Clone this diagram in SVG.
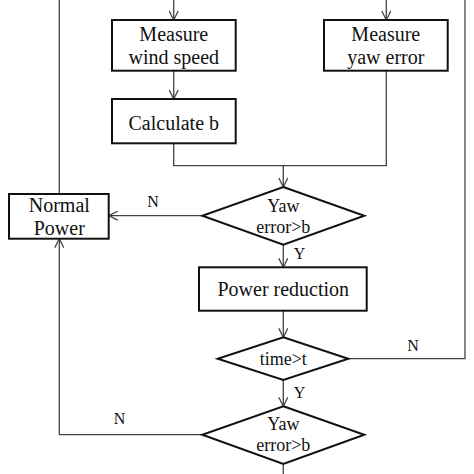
<svg xmlns="http://www.w3.org/2000/svg" width="474" height="474" viewBox="0 0 474 474">
<style>
.box{fill:#fff;stroke:#111;stroke-width:2}
.t{font-family:"Liberation Serif","Times New Roman",serif;font-size:20px;fill:#111;text-anchor:middle}
.d{font-family:"Liberation Serif","Times New Roman",serif;font-size:18px;fill:#111;text-anchor:middle}
.l{font-family:"Liberation Serif","Times New Roman",serif;font-size:16px;fill:#111;text-anchor:middle}
.c{fill:none;stroke:#444;stroke-width:1.3}
</style>
<defs>
<marker id="arr" viewBox="0 0 10 10" refX="10" refY="5" markerWidth="10" markerHeight="10" markerUnits="userSpaceOnUse" orient="auto">
<path d="M1,0.5 L10,5 L1,9.5" fill="none" stroke="#444" stroke-width="1.3"/>
</marker>
</defs>
<rect width="474" height="474" fill="#fff"/>
<g id="connectors">
<path class="c" d="M173.7,0 V20" marker-end="url(#arr)"/>
<path class="c" d="M386.3,0 V20" marker-end="url(#arr)"/>
<path class="c" d="M173.7,70.7 V99" marker-end="url(#arr)"/>
<path class="c" d="M173.7,143.3 V165.7 H386.3 V70.7"/>
<path class="c" d="M283.3,165.7 V187" marker-end="url(#arr)"/>
<path class="c" d="M202.3,215.7 H108.7" marker-end="url(#arr)"/>
<path class="c" d="M283.3,244.7 V267.3" marker-end="url(#arr)"/>
<path class="c" d="M283.3,310.7 V337.3" marker-end="url(#arr)"/>
<path class="c" d="M348.3,358.7 H465 V0"/>
<path class="c" d="M59.3,194 V0"/>
<path class="c" d="M283.3,380 V406.3" marker-end="url(#arr)"/>
<path class="c" d="M202.3,434.7 H59.3 V238.7" marker-end="url(#arr)"/>
<path class="c" d="M283.3,464 V474"/>
<text class="l" x="153" y="207">N</text>
<text class="l" x="299.5" y="259">Y</text>
<text class="l" x="413" y="351">N</text>
<text class="l" x="299.5" y="398">Y</text>
<text class="l" x="119.5" y="424">N</text>
</g>
<g id="wind">
<rect class="box" x="112" y="20" width="123.7" height="50.7"/>
<text class="t" x="173.8" y="40.5">Measure</text>
<text class="t" x="173.8" y="64">wind speed</text>
</g>
<g id="yaw">
<rect class="box" x="324" y="20" width="123.7" height="50.7"/>
<text class="t" x="385.8" y="40.5">Measure</text>
<text class="t" x="385.8" y="64">yaw error</text>
</g>
<g id="calc">
<rect class="box" x="112" y="99" width="123.7" height="44.3"/>
<text class="t" x="173.8" y="130">Calculate b</text>
</g>
<g id="normal">
<rect class="box" x="9" y="194" width="99.7" height="44.7"/>
<text class="t" x="59.3" y="212">Normal</text>
<text class="t" x="59.3" y="235">Power</text>
</g>
<g id="dec1">
<polygon class="box" points="283.3,187 364.3,215.7 283.3,244.7 202.3,215.7"/>
<text class="d" x="283.3" y="212">Yaw</text>
<text class="d" x="283.3" y="233">error&gt;b</text>
</g>
<g id="power">
<rect class="box" x="199" y="267.3" width="167.7" height="43.4"/>
<text class="t" x="283.3" y="296">Power reduction</text>
</g>
<g id="dec2">
<polygon class="box" points="283.3,337.3 348.3,358.7 283.3,380 217.7,358.7"/>
<text class="d" x="283.3" y="365">time&gt;t</text>
</g>
<g id="dec3">
<polygon class="box" points="283.3,406.3 364.3,434.7 283.3,464 202.3,434.7"/>
<text class="d" x="283.3" y="430">Yaw</text>
<text class="d" x="283.3" y="451">error&gt;b</text>
</g>
</svg>
